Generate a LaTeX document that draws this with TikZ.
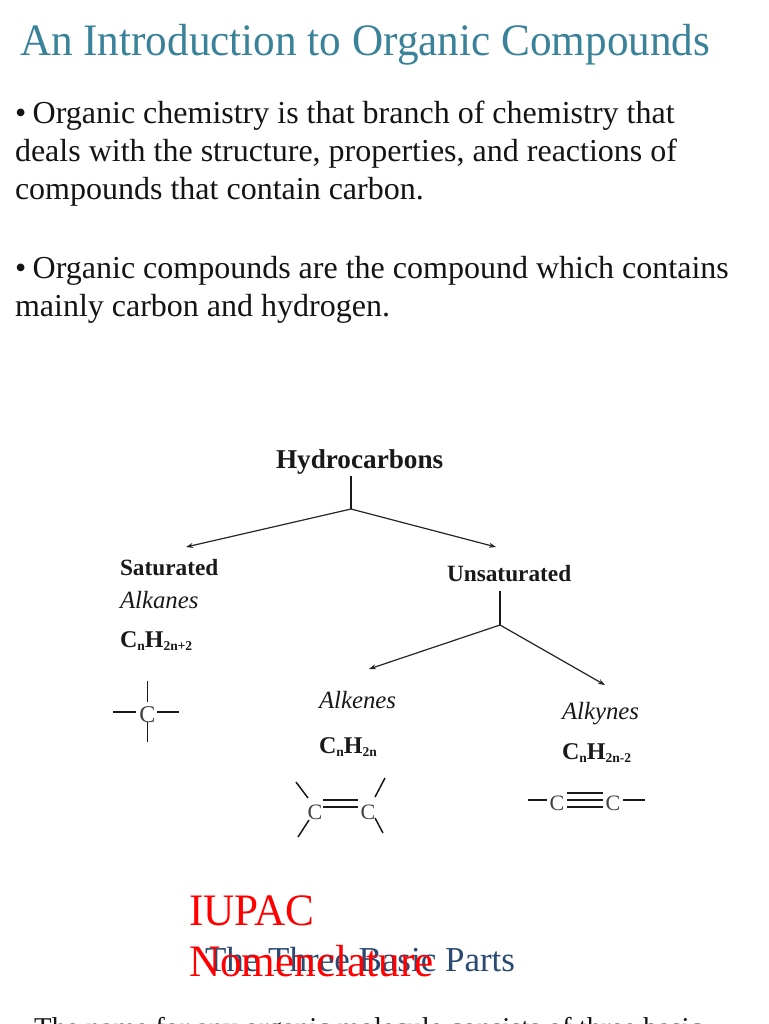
\documentclass[tikz,border=0pt]{standalone}
\usepackage{fontspec}
\setmainfont{Liberation Serif}
\newfontfamily\narrowserif[FakeStretch=0.96]{Liberation Serif}
\usetikzlibrary{arrows.meta}
\definecolor{titleteal}{HTML}{3A8299}
\definecolor{partsblue}{HTML}{2A4A72}
\newcommand{\fs}[1]{\fontsize{#1pt}{#1pt}\selectfont}
\newcommand{\subf}[1]{\raisebox{-3.5pt}{\fontsize{13.5}{13.5}\selectfont\textbf{#1}}}
\newcommand{\formula}[2]{\textbf{C}\subf{n}\textbf{H}\subf{#2}}
\newcommand{\bul}{•\kern-1.5pt\ }
\tikzset{
  txt/.style={anchor=base west,inner sep=0pt,outer sep=0pt},
  titletext/.style={txt,text=titleteal,font=\narrowserif\fs{45}},
  bodytext/.style={txt,text=black!92,font=\fs{32}},
  lastline/.style={txt,text=black!92,font=\fs{28.7}},
  headtext/.style={txt,text=black!90,font=\fs{23.3}\bfseries},
  kindtext/.style={txt,text=black!90,font=\fs{24.8}\itshape},
  formulatext/.style={txt,text=black!90,font=\fs{24}},
  redtext/.style={txt,text=red,font=\narrowserif\fs{45}},
  partstext/.style={txt,text=partsblue,font=\fs{35}},
  atom/.style={inner sep=0pt,outer sep=0pt,text=black!75,font=\fs{22}},
  branch/.style={draw=black!85,line width=1.2pt},
  stem/.style={draw=black!90,line width=1.6pt},
  tipped/.style={branch,-{Stealth[length=7pt,width=5pt]}},
  bond/.style={draw=black!90,line width=1.5pt}
}
\begin{document}
\begin{tikzpicture}[x=1pt,y=-1pt]
\useasboundingbox (0,0) rectangle (768,1024);
\clip (0,0) rectangle (768,1024);
\fill[white] (0,0) rectangle (768,1024);
\node[titletext] (title) at (20,56) {An Introduction to Organic Compounds};
\node[bodytext] (l1) at (15,124) {\bul Organic chemistry is that branch of chemistry that};
\node[bodytext] (l2) at (15,162) {deals with the structure, properties, and reactions of};
\node[bodytext] (l3) at (15,200) {compounds that contain carbon.};
\node[bodytext] (l4) at (15,278) {\bul Organic compounds are the compound which contains};
\node[bodytext] (l5) at (15,316) {mainly carbon and hydrogen.};

\node[headtext,font=\fs{27.2}\bfseries] (hydro) at (276,468) {Hydrocarbons};
\node[headtext] (sat) at (120,575) {Saturated};
\node[kindtext] (alkanes) at (120,608) {Alkanes};
\node[formulatext] (f1) at (120,647) {\formula{n}{2n+2}};
\node[headtext] (unsat) at (447,581) {Unsaturated};
\node[kindtext] (alkenes) at (319,708) {Alkenes};
\node[formulatext] (f2) at (319,753) {\formula{n}{2n}};
\node[kindtext] (alkynes) at (562,719) {Alkynes};
\node[formulatext] (f3) at (562,759) {\formula{n}{2n-2}};

\coordinate (j1t) at (351,476); \coordinate (j1) at (351,509);
\coordinate (a1) at (186,547); \coordinate (a2) at (496,547);
\draw[stem] (j1t) -- (j1);
\draw[tipped] (j1) -- (a1);
\draw[tipped] (j1) -- (a2);
\coordinate (j2t) at (500,591); \coordinate (j2) at (500,625);
\coordinate (a3) at (369,669); \coordinate (a4) at (605,685);
\draw[stem] (j2t) -- (j2);
\draw[tipped] (j2) -- (a3);
\draw[tipped] (j2) -- (a4);

% methane
\node[atom,font=\fs{24}] (cm) at (147.5,715) {C};
\coordinate (m1) at (147.5,681); \coordinate (m1b) at (147.5,702);
\coordinate (m2) at (147.5,722); \coordinate (m2b) at (147.5,742);
\coordinate (m3) at (113,712); \coordinate (m3b) at (136,712);
\coordinate (m4) at (157,712); \coordinate (m4b) at (179,712);
\draw[bond] (m1) -- (m1b);
\draw[bond] (m2) -- (m2b);
\draw[bond] (m3) -- (m3b);
\draw[bond] (m4) -- (m4b);

% alkene
\node[atom] (ce1) at (315,812) {C};
\node[atom] (ce2) at (368,812) {C};
\coordinate (e1) at (296,782); \coordinate (e1b) at (308,798);
\coordinate (e2) at (298,837); \coordinate (e2b) at (309,820);
\coordinate (e3) at (385,778); \coordinate (e3b) at (375,797);
\coordinate (e4) at (383,833); \coordinate (e4b) at (375,818);
\draw[bond] (e1) -- (e1b);
\draw[bond] (e2) -- (e2b);
\draw[bond] (e3) -- (e3b);
\draw[bond] (e4) -- (e4b);
\coordinate (d1) at (323,800); \coordinate (d1b) at (358,800);
\coordinate (d2) at (323,807); \coordinate (d2b) at (358,807);
\draw[bond] (d1) -- (d1b);
\draw[bond] (d2) -- (d2b);

% alkyne
\node[atom] (cy1) at (557,803) {C};
\node[atom] (cy2) at (613,803) {C};
\coordinate (y1) at (528,800); \coordinate (y1b) at (547,800);
\coordinate (y2) at (623,800); \coordinate (y2b) at (645,800);
\draw[bond] (y1) -- (y1b);
\draw[bond] (y2) -- (y2b);
\coordinate (t1) at (567,793); \coordinate (t1b) at (603,793);
\coordinate (t2) at (567,800); \coordinate (t2b) at (603,800);
\coordinate (t3) at (567,807); \coordinate (t3b) at (603,807);
\draw[bond] (t1) -- (t1b);
\draw[bond] (t2) -- (t2b);
\draw[bond] (t3) -- (t3b);

\node[partstext] (parts) at (205,971) {The Three Basic Parts};
\node[redtext] (iupac) at (189,925) {IUPAC};
\node[redtext] (nomen) at (189,976) {Nomenclature};
\node[lastline] (l6) at (17,1037) {• The name for any organic molecule consists of three basic};
\end{tikzpicture}
\end{document}
